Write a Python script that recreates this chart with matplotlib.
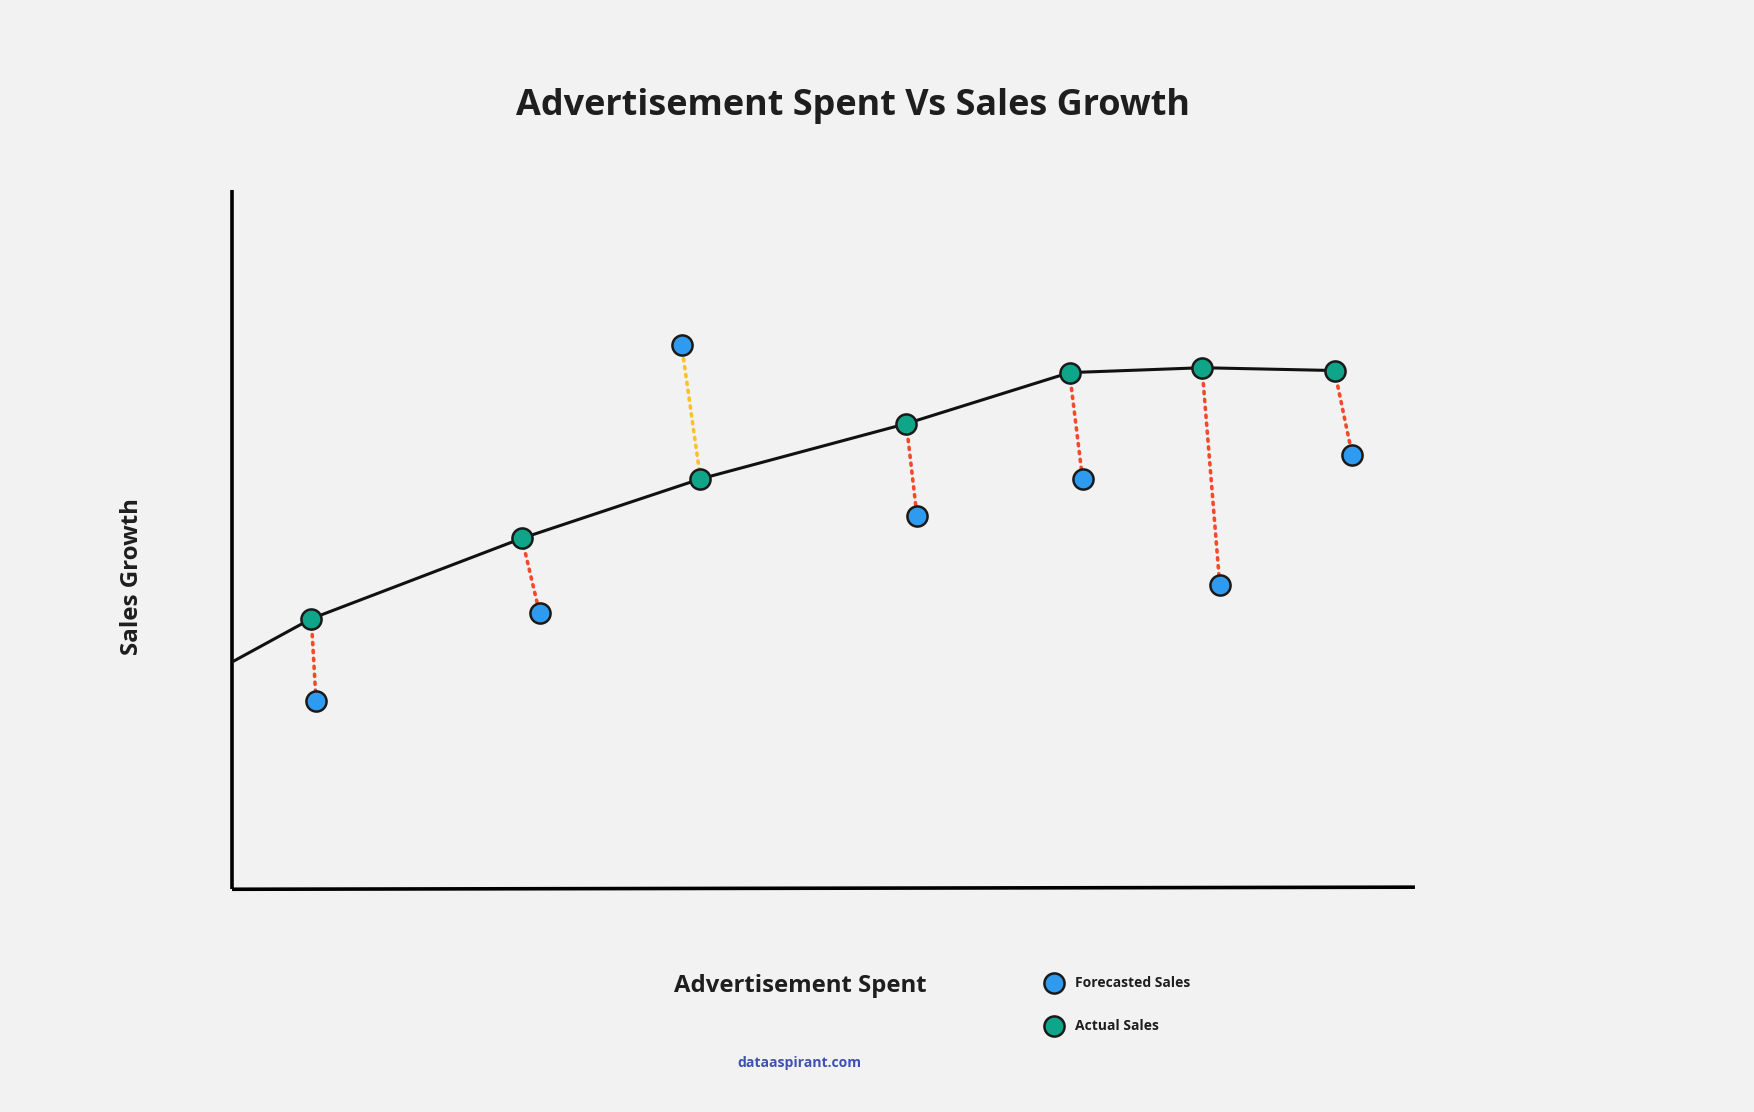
import matplotlib.pyplot as plt
from matplotlib.lines import Line2D

# values (axis units 0..100)
actual_x = [6.7, 24.5, 39.6, 57.0, 70.8, 82.0, 93.2]
actual_y = [38.7, 50.2, 58.7, 66.6, 73.9, 74.6, 74.2]
forecast_x = [7.1, 26.0, 38.0, 57.9, 71.9, 83.5, 94.7]
forecast_y = [26.9, 39.5, 77.9, 53.4, 58.7, 43.5, 62.1]
line_start = (0.1, 32.6)

bg = '#f2f2f2'
blue = '#2e9bf0'
green = '#0fa588'
red = '#f24a2a'
yellow = '#fbc02d'

plt.rcParams['font.family'] = ['Open Sans', 'DejaVu Sans']

fig = plt.figure(figsize=(17.54, 11.12), dpi=100, facecolor=bg)
ax = fig.add_axes([0.1323, 0.2003, 0.6744, 0.6287])
ax.set_facecolor(bg)
ax.set_xlim(0, 100)
ax.set_ylim(0, 100)
ax.axis('off')

# hand-drawn looking axes
ax.plot([0, 0], [0, 100], color='black', lw=2.6, clip_on=False, solid_capstyle='butt')
ax.plot([0, 100], [0, 0.3], color='black', lw=2.6, clip_on=False, solid_capstyle='butt')

# actual sales curve
ax.plot([line_start[0]] + actual_x, [line_start[1]] + actual_y, color='#111111', lw=2.2, zorder=2)

# error connectors
for ax_, ay, fx, fy in zip(actual_x, actual_y, forecast_x, forecast_y):
    c = yellow if fy > ay else red
    ax.plot([ax_, fx], [ay, fy], color=c, lw=2.6, linestyle=(0, (0.6, 1.6)),
            dash_capstyle='round', zorder=1)

ms = 14.5
ax.plot(forecast_x, forecast_y, 'o', ms=ms, mfc=blue, mec='#1a1a1a', mew=1.8, zorder=3, clip_on=False)
ax.plot(actual_x, actual_y, 'o', ms=ms, mfc=green, mec='#1a1a1a', mew=1.8, zorder=3, clip_on=False)

fig.text(0.4866, 0.9045, 'Advertisement Spent Vs Sales Growth', ha='center', va='center',
         fontsize=25.9, fontweight='bold', color='#1e1e1e')
fig.text(0.456, 0.1137, 'Advertisement Spent', ha='center', va='center',
         fontsize=17.2, fontweight='bold', color='#1e1e1e')
fig.text(0.0755, 0.482, 'Sales Growth', ha='center', va='center', rotation=90,
         fontsize=17.4, fontweight='bold', color='#1e1e1e')
fig.text(0.456, 0.044, 'dataaspirant.com', ha='center', va='center',
         fontsize=10.1, fontweight='bold', color='#3f51b5')

# legend
for y, col, lab in [(0.116, blue, 'Forecasted Sales'), (0.077, green, 'Actual Sales')]:
    fig.add_artist(Line2D([0.601], [y], marker='o', ms=ms, mfc=col, mec='#1a1a1a', mew=1.8,
                          transform=fig.transFigure))
    fig.text(0.613, y, lab, ha='left', va='center', fontsize=10, fontweight='bold', color='#1e1e1e')

fig.savefig('out.png', dpi=100, facecolor=bg)
